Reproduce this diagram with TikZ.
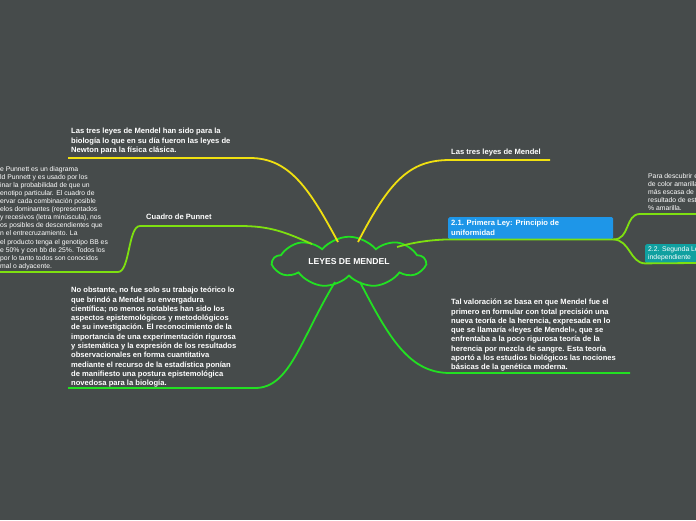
\documentclass[tikz,border=0pt]{standalone}
\usepackage{fontspec}
\setmainfont{Liberation Sans}
\usetikzlibrary{shapes.symbols}
\definecolor{bg}{HTML}{464B4B}
\definecolor{gr}{HTML}{22E022}
\definecolor{lg}{HTML}{7EE010}
\definecolor{yl}{HTML}{F0E010}
\definecolor{bl}{HTML}{1E96E8}
\definecolor{tl}{HTML}{10A0A0}
\begin{document}
\begin{tikzpicture}[x=1pt,y=-1pt,
  txt/.style={anchor=north west,inner sep=0,align=left,text=white,font=\fontsize{7.6}{9.3}\selectfont\bfseries},
  txtn/.style={anchor=north west,inner sep=0,align=left,text=white,font=\fontsize{6.8}{8.1}\selectfont},
  conn/.style={line width=1.8pt}]
\fill[bg] (0,0) rectangle (696,520);
\useasboundingbox (0,0) rectangle (696,520);
\node[cloud,cloud puffs=9,cloud puff arc=100,aspect=3.8,draw=gr,line width=1.8pt,fill=bg,minimum width=152pt,minimum height=42pt,text=white,font=\fontsize{8.6}{9}\selectfont\bfseries] (c) at (349,262) {LEYES DE MENDEL};
% yellow branches
\coordinate (y1s) at (338,242); \coordinate (y1e) at (68,158); \coordinate (y1m) at (250,158);
\draw[conn,yl] (y1s) .. controls (310,190) and (290,158) .. (y1m) -- (y1e);
\node[txt] (t1) at (71,128) {Las tres leyes de Mendel han sido para la\\biología lo que en su día fueron las leyes de\\Newton para la física clásica.};
\coordinate (y2s) at (358,242); \coordinate (y2m) at (450,160); \coordinate (y2e) at (550,160);
\draw[conn,yl] (y2s) .. controls (390,180) and (410,160) .. (y2m) -- (y2e);
\node[txt] (t2) at (451,149) {Las tres leyes de Mendel};
% Punnett
\coordinate (p1) at (312,244); \coordinate (p2) at (240,226); \coordinate (p3) at (140,226);
\coordinate (p4) at (118,272); \coordinate (p5) at (0,272);
\draw[conn,lg] (p1) .. controls (285,232) and (270,226) .. (p2) -- (p3) .. controls (128,226) and (130,272) .. (p4) -- (p5);
\node[txt] (t3) at (146,214) {Cuadro de Punnet};
\node[txtn] (t4) at (0,166) {e Punnett es un diagrama\\ld Punnett y es usado por los\\inar la probabilidad de que un\\enotipo particular. El cuadro de\\ervar cada combinación posible\\elos dominantes (representados\\ y recesivos (letra minúscula), nos\\os posibles de descendientes que\\n el entrecruzamiento. La\\el producto tenga el genotipo BB es\\e 50\% y con bb de 25\%. Todos los\\ por lo tanto todos son conocidos\\mal o adyacente.};
% bottom left
\coordinate (b1) at (335,282); \coordinate (b2) at (255,388); \coordinate (b3) at (68,388);
\draw[conn,gr] (b1) .. controls (300,340) and (290,388) .. (b2) -- (b3);
\node[txt] (t5) at (71,287) {No obstante, no fue solo su trabajo teórico lo\\que brindó a Mendel su envergadura\\científica; no menos notables han sido los\\aspectos epistemológicos y metodológicos\\de su investigación. El reconocimiento de la\\importancia de una experimentación rigurosa\\y sistemática y la expresión de los resultados\\observacionales en forma cuantitativa\\mediante el recurso de la estadística ponían\\de manifiesto una postura epistemológica\\novedosa para la biología.};
% bottom right
\coordinate (r1) at (360,282); \coordinate (r2) at (450,373); \coordinate (r3) at (630,373);
\draw[conn,gr] (r1) .. controls (390,340) and (410,373) .. (r2) -- (r3);
\node[txt] (t6) at (451,299) {Tal valoración se basa en que Mendel fue el\\primero en formular con total precisión una\\nueva teoría de la herencia, expresada en lo\\que se llamaría «leyes de Mendel», que se\\enfrentaba a la poco rigurosa teoría de la\\herencia por mezcla de sangre. Esta teoría\\aportó a los estudios biológicos las nociones\\básicas de la genética moderna.};
% right branch
\node[fill=bl,rounded corners=1.5pt,anchor=north west,minimum width=165pt,minimum height=22pt,inner sep=0] (box1) at (448,217) {};
\node[txt] at (451,220) {2.1. Primera Ley: Principio de\\uniformidad};
\coordinate (q1) at (397,247);
\draw[conn,lg] (q1) .. controls (415,242) and (430,240) .. (box1.south west) -- (box1.south east);
\node[fill=tl,rounded corners=1.5pt,anchor=north west,minimum width=60pt,minimum height=19pt,inner sep=0] (box2) at (645,244) {};
\node[txtn] at (648,246) {2.2. Segunda Le\\independiente};
\coordinate (q2) at (640,214); \coordinate (q3) at (696,214); \coordinate (q4) at (696,263);
\draw[conn,lg] (box1.south east) .. controls (630,240) and (625,214) .. (q2) -- (q3);
\draw[conn,lg] (box1.south east) .. controls (630,240) and (630,263) .. (box2.south west) -- (q4);
\node[txtn] (t7) at (648,173) {Para descubrir e\\de color amarilla\\más escasa de\\resultado de est\\\% amarilla.};
\end{tikzpicture}
\end{document}
